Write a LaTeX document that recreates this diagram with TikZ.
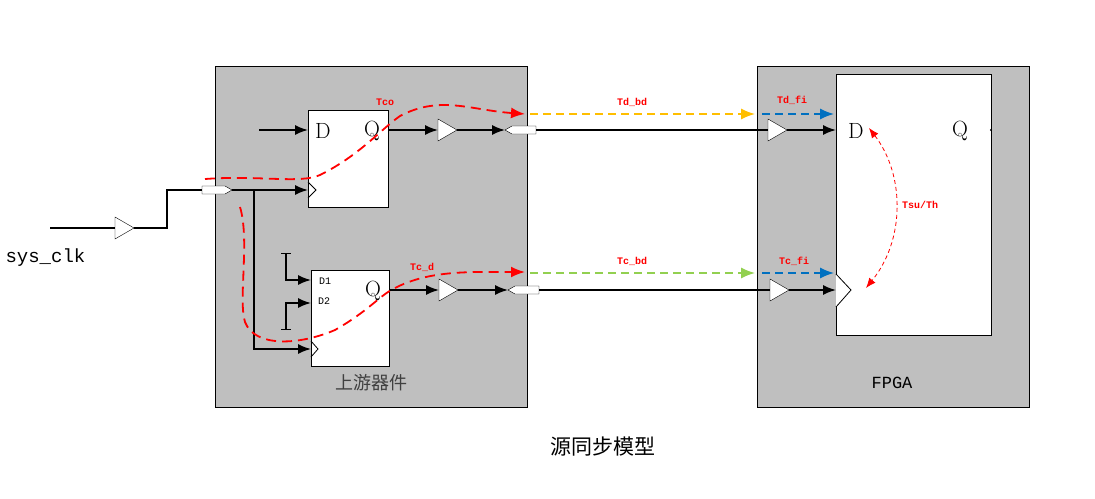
\documentclass[tikz,border=0pt]{standalone}
\usepackage{fontspec}
\newfontfamily\cjk{Noto Sans CJK SC}
\newfontfamily\mono{Liberation Mono}
\usetikzlibrary{arrows.meta}
\definecolor{tdorange}{RGB}{255,190,0}
\definecolor{tcgreen}{RGB}{146,208,80}
\definecolor{fiblue}{RGB}{0,112,192}
\tikzset{
  wire/.style={line width=1.6pt, -{Latex[length=13pt,width=10pt]}},
  line/.style={line width=1.6pt},
  tcurve/.style={red, line width=1.8pt, dash pattern=on 10pt off 6pt, -{Latex[length=14pt,width=11pt]}},
  dly/.style={line width=1.5pt, dash pattern=on 8pt off 5pt, -{Latex[length=14pt,width=11pt]}},
  tlabel/.style={red, font=\mono\bfseries\fontsize{10}{10}\selectfont},
  bigl/.style={font=\fontsize{22}{22}\selectfont},
}
\newcommand{\buf}[2]{\draw[fill=white] (#1,#2-11) -- (#1+19,#2) -- (#1,#2+11) -- cycle;}
\newcommand{\padR}[2]{\draw[fill=white] (#1,#2-4) -- (#1+23,#2-4) -- (#1+30,#2) -- (#1+23,#2+4) -- (#1,#2+4) -- cycle;}
\newcommand{\padL}[2]{\draw[fill=white] (#1,#2) -- (#1+7,#2-4) -- (#1+31,#2-4) -- (#1+31,#2+4) -- (#1+7,#2+4) -- cycle;}
\begin{document}
\begin{tikzpicture}[x=1pt, y=-1pt]
\useasboundingbox (0,0) rectangle (1095,498);

%blocos
\draw[fill=gray!50] (215,66) rectangle (527,407);
\draw[fill=gray!50] (757,66) rectangle (1029,407);
\draw[fill=white] (836,74) rectangle (991,335);
\node[font=\cjk\fontsize{18}{18}\selectfont, text=black!75] (up) at (371,383) {上游器件};
\node[font=\mono\fontsize{17}{17}\selectfont] (fpga) at (892,383) {FPGA};
\node[font=\cjk\fontsize{21}{21}\selectfont] (title) at (603,447) {源同步模型};

%registradores
\draw[fill=white] (308,110) rectangle (388,207);
\draw[fill=white] (311,270) rectangle (389,366);
\node[bigl] (d1) at (323,131) {D};
\node[bigl] (q1) at (372,131) {Q};
\node[bigl] (q2) at (373,291) {Q};
\node[font=\mono\fontsize{10}{10}\selectfont] (dd1) at (325,281) {D1};
\node[font=\mono\fontsize{10}{10}\selectfont] (dd2) at (324,301) {D2};
\node[bigl] (d3) at (856,131) {D};
\node[bigl] (q3) at (960,131) {Q};
\draw[thick] (308,182) -- (316,190) -- (308,198);
\draw[thick] (311,341) -- (318,349) -- (311,357);
\draw[fill=white, thick] (836,274) -- (851,290) -- (836,307);
\fill (991,130) circle (1.2pt);

%relogio
\coordinate (ck) at (50,228);
\node[font=\mono\fontsize{19}{19}\selectfont, anchor=west] (sys) at (2,258) {sys\_clk};
\draw[line] (ck) -- (115,228);
\buf{115}{228}
\draw[line] (134,228) -- (167,228) -- (167,190) -- (202,190);
\padR{202}{190}
\draw[wire] (232,190) -- (308,190);
\draw[wire] (254,190) -- (254,349) -- (311,349);

%entradas
\draw[wire] (259,130) -- (308,130);
\draw[thick] (281,253) -- (291,253);
\draw[wire] (286,253) -- (286,280) -- (311,280);
\draw[thick] (281,329) -- (291,329);
\draw[wire] (286,329) -- (286,303) -- (311,303);

%saidas
\draw[wire] (388,130) -- (438,130);
\buf{438}{130}
\draw[wire] (457,130) -- (505,130);
\padL{505}{130}
\draw[line] (536,130) -- (768,130);
\buf{768}{130}
\draw[wire] (787,130) -- (836,130);

\draw[wire] (389,290) -- (439,290);
\buf{439}{290}
\draw[wire] (458,290) -- (508,290);
\padL{508}{290}
\draw[line] (539,290) -- (770,290);
\buf{770}{290}
\draw[wire] (789,290) -- (836,290);

%atrasos
\draw[dly, tdorange] (530,114) -- (755,114);
\draw[dly, tcgreen] (530,273) -- (755,273);
\draw[dly, fiblue] (762,114) -- (834,114);
\draw[dly, fiblue] (762,273) -- (834,273);
\node[tlabel] (tdbd) at (632,102) {Td\_bd};
\node[tlabel] (tcbd) at (632,261) {Tc\_bd};
\node[tlabel] (tdfi) at (792,100) {Td\_fi};
\node[tlabel] (tcfi) at (794,261) {Tc\_fi};

%curvas
\draw[tcurve] (205,179) .. controls (260,175) and (300,184) .. (320,175)
  .. controls (360,155) and (380,130) .. (400,116)
  .. controls (440,95) and (470,110) .. (525,114);
\node[tlabel] (tco) at (385,102) {Tco};
\draw[tcurve] (240,207) .. controls (250,240) and (238,300) .. (245,322)
  .. controls (255,348) and (300,345) .. (335,330)
  .. controls (370,310) and (380,295) .. (395,288)
  .. controls (430,270) and (470,272) .. (525,272);
\node[tlabel] (tcd) at (422,267) {Tc\_d};
\draw[red, thick, dash pattern=on 4pt off 3pt, {Latex[length=10pt,width=8pt]}-{Latex[length=10pt,width=8pt]}] (869,128) .. controls (905,175) and (905,240) .. (866,288);
\node[tlabel] (tsu) at (920,205) {Tsu/Th};

\end{tikzpicture}
\end{document}
